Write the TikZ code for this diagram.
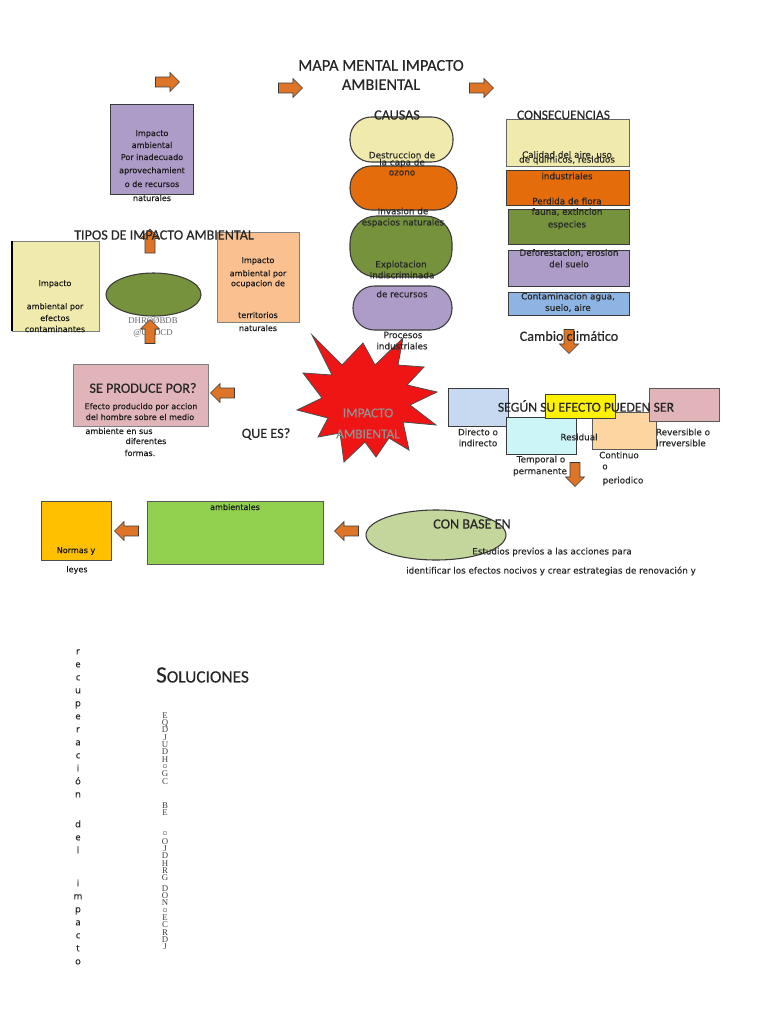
\documentclass[tikz,border=0pt]{standalone}
\usepackage{fontspec}
\setmainfont[FakeBold=0.12]{DejaVu Sans}
\newfontfamily\headfont[FakeBold=0.35]{Carlito}
\newfontfamily\serfont{Liberation Serif}
\newfontfamily\openfont[FakeBold=0.2]{Open Sans}
\usetikzlibrary{shapes.arrows}
\definecolor{cPurple}{HTML}{AD9CC8}
\definecolor{cCream}{HTML}{F0EBAC}
\definecolor{cOrange}{HTML}{E46C0A}
\definecolor{cOlive}{HTML}{76923C}
\definecolor{cPeach}{HTML}{FAC090}
\definecolor{cSky}{HTML}{8DB4E2}
\definecolor{cRose}{HTML}{E0B4B8}
\definecolor{cPale}{HTML}{C6D9F0}
\definecolor{cCyan}{HTML}{CCF5F8}
\definecolor{cTan}{HTML}{FCD5A0}
\definecolor{cLeaf}{HTML}{92D050}
\definecolor{cGold}{HTML}{FFC000}
\definecolor{cSage}{HTML}{C3D69B}
\definecolor{cArrow}{HTML}{DE7526}
\definecolor{cEdge}{HTML}{3A3A3A}
\definecolor{cStar}{HTML}{F01515}
\tikzset{
  x=0.75pt,y=-0.75pt,
  boxstyle/.style={draw=cEdge,line width=0.65pt,inner sep=0pt},
  pillstyle/.style={draw=cEdge,line width=0.8pt,rounded corners=16pt},
  ovalstyle/.style={draw=cEdge,line width=0.8pt},
  blockarrow/.style={single arrow,draw=cEdge,fill=cArrow,line width=0.5pt,
    minimum height=18pt,minimum width=14.25pt,single arrow head extend=1.6pt,
    single arrow head indent=0pt,inner sep=1.5pt,anchor=center},
  small/.style={font=\fontsize{6.05pt}{9pt}\selectfont,align=center,inner sep=0pt,text=black!90},
  medium/.style={font=\fontsize{6.6pt}{9.4pt}\selectfont,align=center,inner sep=0pt,text=black!85},
  heading/.style={font=\headfont\fontsize{10.6pt}{12pt}\selectfont,align=center,inner sep=0pt,text=black!85},
}
\newcommand{\pxbox}[6]{\draw[#6] (#2,#3) rectangle (#4,#5) node[pos=.5,inner sep=0pt] (#1) {};}
\begin{document}
\begin{tikzpicture}
\useasboundingbox (0,0) rectangle (768,1024);
\fill[white] (0,0) rectangle (768,1024);

% shapes
\pxbox{bPurple}{110}{104}{193}{194}{boxstyle,fill=cPurple}
\pxbox{bCream}{12}{241}{99}{331}{boxstyle,draw=gray,fill=cCream}
\draw[line width=1.2pt,black] (12,241) -- (12,331);
\pxbox{bPeach}{217}{232}{299}{322}{boxstyle,draw=gray,fill=cPeach}
\draw[fill=cOlive,ovalstyle] (153.5,294.5) ellipse [x radius=47.5,y radius=21.5];
\node[inner sep=0pt] (eTypes) at (153.5,294.5) {};

\pxbox{c1}{350}{117}{453}{162}{pillstyle,fill=cCream}
\pxbox{c2}{350}{166}{457}{210}{pillstyle,fill=cOrange}
\pxbox{c3}{350}{216}{452}{277}{pillstyle,rounded corners=20pt,fill=cOlive}
\pxbox{c4}{353}{286}{452}{330}{pillstyle,fill=cPurple}

\pxbox{k1}{506}{119}{629}{166}{boxstyle,draw=gray!80!black,fill=cCream}
\pxbox{k2}{506}{170}{629}{205}{boxstyle,fill=cOrange}
\pxbox{k3}{508}{209}{629}{244}{boxstyle,fill=cOlive}
\pxbox{k4}{508}{250}{629}{286}{boxstyle,fill=cPurple}
\pxbox{k5}{508}{292}{629}{315}{boxstyle,fill=cSky}

\pxbox{bRose}{73}{364}{208}{426}{boxstyle,draw=gray,fill=cRose}

\pxbox{e1}{448}{388}{508}{426}{boxstyle,fill=cPale}
\pxbox{e3}{592}{412}{656}{449}{boxstyle,draw=gray!70!black,fill=cTan}
\pxbox{e2}{506}{417}{576}{454}{boxstyle,fill=cCyan}
\pxbox{e4}{545}{394}{615}{418}{boxstyle,draw=gray!50!black,fill=yellow}
\pxbox{e5}{649}{388}{719}{421}{boxstyle,draw=gray!70!black,fill=cRose}

\pxbox{bLeaf}{147}{501}{323}{564}{boxstyle,draw=gray!70!black,fill=cLeaf}
\pxbox{bGold}{41}{501}{111}{560}{boxstyle,draw=black!70,fill=cGold}
\draw[fill=cSage,ovalstyle] (436,535) ellipse [x radius=70,y radius=25];
\node[inner sep=0pt] (eBase) at (436,535) {};

% star
\draw[draw=black!70,fill=cStar,line width=0.6pt,line join=miter]
 (312,335)--(342,365)--(363,343)--(375,365)--(403,338)--(398,365)--(424,367)--(407,385)
 --(437,392)--(410,405)--(436,425)--(403,422)--(409,450)--(389,438)--(376,457)--(365,442)
 --(344,462)--(340,433)--(318,437)--(328,418)--(297,410)--(322,398)--(303,373)--(332,375)--cycle;

\node[inner sep=0pt,font=\serfont\fontsize{6.6pt}{9pt}\selectfont,align=center,text=gray!80!black] (u1) at (153,327) {DHRO\O BDB\\@UODCD};

% block arrows
\node[blockarrow] (a1) at (165,82) {};
\node[blockarrow] (a2) at (288,88) {};
\node[blockarrow] (a3) at (479,88) {};
\node[blockarrow,shape border rotate=90] (a4) at (150,243.5) {};
\node[blockarrow,shape border rotate=90] (a5) at (150,334) {};
\node[blockarrow,shape border rotate=180] (a6) at (225,393) {};
\node[blockarrow,shape border rotate=270] (a7) at (569,339) {};
\node[blockarrow,shape border rotate=270] (a8) at (575,472) {};
\node[blockarrow,shape border rotate=180] (a9) at (349,531) {};
\node[blockarrow,shape border rotate=180] (a10) at (129,531) {};

% headings
\node[heading,font=\headfont\fontsize{12.3pt}{14.4pt}\selectfont] (title) at (381,75) {MAPA MENTAL IMPACTO\\AMBIENTAL};
\node[heading] (tCausas) at (397,115) {CAUSAS};
\node[heading,font=\headfont\fontsize{10.1pt}{12pt}\selectfont] (tCons) at (563.5,115) {CONSECUENCIAS};
\node[heading] (tTipos) at (164,235) {TIPOS DE IMPACTO AMBIENTAL};
\node[heading] (tCambio) at (569,336) {Cambio climático};
\node[heading,font=\headfont\fontsize{10.3pt}{12pt}\selectfont] (tSegun) at (586,406) {SEGÚN SU EFECTO PUEDEN SER};
\node[heading] (tBase) at (472,524) {CON BASE EN};
\node[heading] (tQue) at (266,434) {QUE ES?};
\node[heading] (tProd) at (143,388) {SE PRODUCE POR?};
\node[heading,text=gray!85,font=\headfont\fontsize{10pt}{12pt}\selectfont] (tImp1) at (368,413) {IMPACTO};
\node[heading,text=gray!85,font=\headfont\fontsize{10pt}{12pt}\selectfont] (tImp2) at (368,434) {AMBIENTAL};
\node[heading,font=\headfont\fontsize{14pt}{16pt}\selectfont] (tSol) at (202.5,675) {{\fontsize{17.5pt}{16pt}\selectfont S}{\fontsize{13pt}{16pt}\selectfont OLUCIONES}};

% small texts, left
\node[small] (p1) at (152,134) {Impacto}; 
\node[small] (p2) at (152,145) {ambiental};
\node[small] (p3) at (152,157) {Por inadecuado};
\node[small] (p4) at (152,171) {aprovechamient};
\node[small] (p5) at (152,184) {o de recursos};
\node[small] (p6) at (152,198) {naturales};
\node[small] (q1) at (55,284) {Impacto};
\node[small] (q2) at (55,307) {ambiental por};
\node[small] (q3) at (55,318) {efectos};
\node[small] (q4) at (55,329) {contaminantes};
\node[small] (r1) at (258,261) {Impacto};
\node[small] (r2) at (258,274) {ambiental por};
\node[small] (r3) at (258,284) {ocupacion de};
\node[small] (r4) at (258,315) {territorios};
\node[small] (r5) at (258,328) {naturales};
\node[small] (s1) at (141,407) {Efecto producido por accion};
\node[small] (s2) at (140,417) {del hombre sobre el medio};
\node[small] (s3) at (119,431) {ambiente en sus};
\node[small] (s4) at (146,441) {diferentes};
\node[small] (s5) at (140,453) {formas.};
\node[small] (g1) at (235,507) {ambientales};
\node[small] (n1) at (76,551) {Normas y};
\node[small] (n2) at (77,570) {leyes};

% small texts, causes
\node[medium] (d1) at (402,155) {Destruccion de};
\node[medium] (d2) at (402,163) {la capa de};
\node[medium] (d3) at (402,173) {ozono};
\node[medium] (d4) at (403,211) {Invasion de};
\node[medium] (d5) at (403,223) {espacios naturales};
\node[medium] (d6) at (401,265) {Explotacion};
\node[medium] (d7) at (402,275) {Indiscriminada};
\node[medium] (d8) at (402,294) {de recursos};
\node[medium] (d9) at (403,335) {Procesos};
\node[medium] (d10) at (402,346) {industriales};

% small texts, consequences
\node[medium] (f1) at (567,155) {Calidad del aire, uso};
\node[medium] (f2) at (567,160) {de químicos, residuos};
\node[medium] (f3) at (567,176) {industriales};
\node[medium] (f4) at (567,201) {Perdida de flora};
\node[medium] (f5) at (567,212) {fauna, extincion};
\node[medium] (f6) at (567,225) {especies};
\node[medium] (f7) at (569,253) {Deforestacion, erosion};
\node[medium] (f8) at (569,264) {del suelo};
\node[medium] (f9) at (568,297) {Contaminacion agua,};
\node[medium] (f10) at (568,308) {suelo, aire};

% small texts, effects
\node[medium] (h1) at (478,432) {Directo o};
\node[medium] (h2) at (478,443) {indirecto};
\node[medium] (h3) at (579,437) {Residual};
\node[medium] (h4) at (541,460) {Temporal o};
\node[medium] (h5) at (540,472) {permanente};
\node[medium] (h6) at (619,455) {Continuo};
\node[medium] (h7) at (605,467) {o};
\node[medium] (h8) at (623,481) {periodico};
\node[medium] (h9) at (683,432) {Reversible o};
\node[medium] (h10) at (681,443) {irreversible};
\node[medium] (h11) at (552,552) {Estudios  previos a las acciones para};
\node[medium] (h12) at (551,571) {identificar los efectos nocivos y crear estrategias de renovación y};

% vertical columns
\node[inner sep=0pt,align=center,anchor=north,font=\openfont\fontsize{7pt}{9.75pt}\selectfont,text=black!85] (vert) at (78,649)
 {r\\e\\c\\u\\p\\e\\r\\a\\c\\i\\ó\\n\\[12.75pt]d\\e\\l\\[15pt]i\\m\\p\\a\\c\\t\\o};
\node[inner sep=0pt,align=center,anchor=north,font=\serfont\fontsize{6.6pt}{5.5pt}\selectfont,text=black!75] (gar) at (165,712)
 {E\\Q\\D\\J\\U\\D\\H\\¤\\G\\C\\[12.7pt]B\\E\\[10.5pt]¤\\O\\J\\D\\H\\R\\G\\[2.2pt]D\\O\\N\\¤\\E\\C\\R\\D\\J};
\end{tikzpicture}
\end{document}
